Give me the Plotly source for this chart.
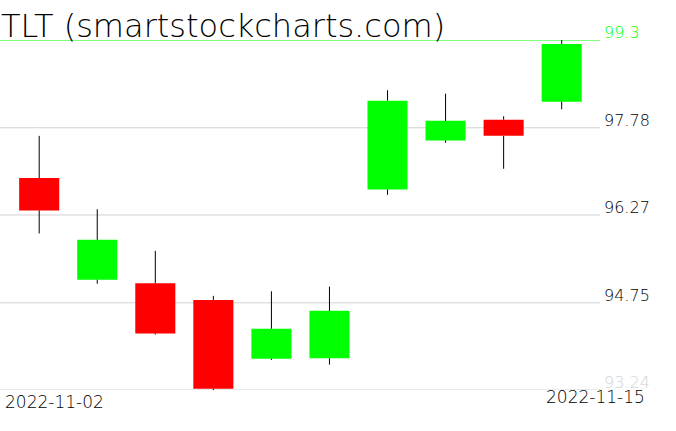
import plotly.graph_objects as go

# daily TLT candles
dates = ['2022-11-02', '2022-11-03', '2022-11-04', '2022-11-07', '2022-11-08',
         '2022-11-09', '2022-11-10', '2022-11-11', '2022-11-14', '2022-11-15']
opens = [96.91, 95.15, 95.09, 94.80, 93.78, 93.79, 96.71, 97.56, 97.92, 98.23]
highs = [97.64, 96.37, 95.65, 94.87, 94.95, 95.03, 98.43, 98.37, 97.98, 99.30]
lows = [95.95, 95.08, 94.20, 93.24, 93.76, 93.68, 96.62, 97.52, 97.07, 98.10]
closes = [96.35, 95.84, 94.22, 93.26, 94.30, 94.61, 98.25, 97.90, 97.64, 99.23]

y_ticks = [93.24, 94.75, 96.27, 97.78, 99.3]
y_labels = ['93.24', '94.75', '96.27', '97.78', '99.3']
label_colors = ['#d3d3d3', 'black', 'black', 'black', '#00ff00']

FONT = 'DejaVu Sans'
idx = list(range(len(dates)))

bases = [min(o, c) for o, c in zip(opens, closes)]
tops = [max(o, c) for o, c in zip(opens, closes)]
heights = [t - b for t, b in zip(tops, bases)]
colors = ['#00ff00' if c >= o else '#ff0000' for o, c in zip(opens, closes)]

# wicks: lower and upper black segments (bars sit below scatter in plotly)
wx, wy = [], []
for i in idx:
    wx += [i, i, None, i, i, None]
    wy += [lows[i], bases[i], None, tops[i], highs[i], None]

fig = go.Figure()
fig.add_trace(go.Bar(x=idx, y=heights, base=bases, width=0.69,
                     marker=dict(color=colors, line=dict(width=0))))
fig.add_trace(go.Scatter(x=wx, y=wy, mode='lines',
                         line=dict(color='black', width=1), hoverinfo='skip'))

# price lines
for v, col in zip(y_ticks, label_colors):
    fig.add_shape(type='line', xref='paper', x0=0, x1=1, yref='y', y0=v, y1=v,
                  line=dict(color='#00ff00' if col == '#00ff00' else '#d3d3d3', width=1),
                  layer='below')

annotations = []
for v, txt, col in zip(y_ticks, y_labels, label_colors):
    annotations.append(dict(x=1, xref='paper', y=v, yref='y', text=txt,
                            showarrow=False, xanchor='left', yanchor='bottom',
                            xshift=2, yshift=-4,
                            font=dict(family=FONT, size=16, color=col, weight=200)))

annotations.append(dict(x=0, xref='paper', y=0, yref='paper', text=dates[0],
                        showarrow=False, xanchor='left', yanchor='top',
                        xshift=3, yshift=0,
                        font=dict(family=FONT, size=17, color='black', weight=200)))
annotations.append(dict(x=1, xref='paper', y=0, yref='paper', text=dates[-1],
                        showarrow=False, xanchor='right', yanchor='top',
                        xshift=47, yshift=5,
                        font=dict(family=FONT, size=17, color='black', weight=200)))
annotations.append(dict(x=0, xref='paper', y=1, yref='paper', text='TLT (smartstockcharts.com)',
                        showarrow=False, xanchor='left', yanchor='middle',
                        xshift=-1, yshift=14,
                        font=dict(family=FONT, size=32, color='black', weight=200)))

fig.update_layout(
    width=676, height=431,
    margin=dict(l=0, r=76, t=40, b=41),
    paper_bgcolor='white', plot_bgcolor='white',
    showlegend=False,
    annotations=annotations,
    xaxis=dict(range=[-0.675, 9.66], showgrid=False, zeroline=False,
               showticklabels=False, fixedrange=True),
    yaxis=dict(range=[y_ticks[0], y_ticks[-1]], showgrid=False, zeroline=False,
               showticklabels=False, fixedrange=True),
)

# drop the page's default body margin so the chart sits at the window corner
fig.write_html("out.html", config={'displayModeBar': False},
               post_script="document.body.style.margin='0';")
